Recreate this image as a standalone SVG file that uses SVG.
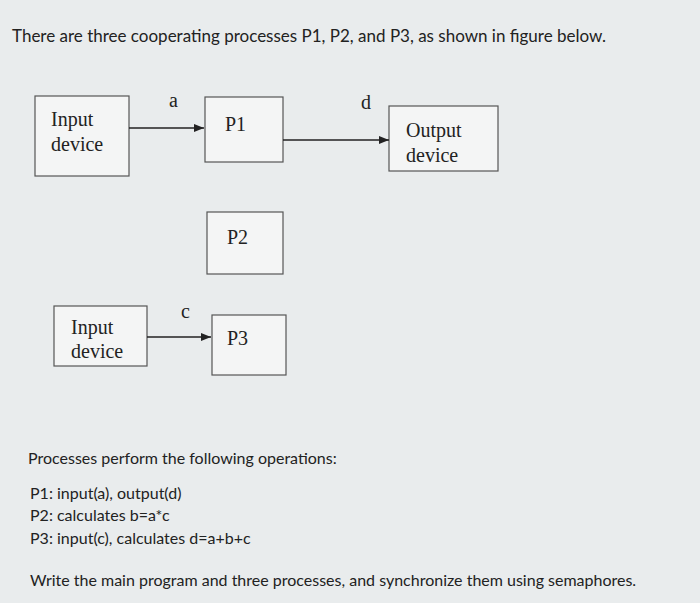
<svg xmlns="http://www.w3.org/2000/svg" width="700" height="603" viewBox="0 0 700 603">
<defs>
<marker id="ah" viewBox="0 0 10 10" refX="10" refY="5" markerWidth="8" markerHeight="8" orient="auto"><path d="M0,1 L10,5 L0,9 z" fill="#222"/></marker>
<style>
.box{fill:#f4f5f5;stroke:#555;stroke-width:1.2}
.lbl{font-family:"Liberation Serif",serif;font-size:20px;fill:#222}
.txt{font-family:Lato,"Liberation Sans",sans-serif;font-size:16px;fill:#222}
.conn{stroke:#222;stroke-width:1.3;fill:none;marker-end:url(#ah)}
</style>
</defs>
<rect width="700" height="603" fill="#e9eced"/>
<text class="txt" x="12" y="42" style="font-size:17px">There are three cooperating processes P1, P2, and P3, as shown in figure below.</text>
<g id="in1"><rect class="box" x="35" y="96" width="94" height="80"/><text class="lbl" x="51" y="126">Input</text><text class="lbl" x="51" y="151">device</text></g>
<g id="p1"><rect class="box" x="205" y="97" width="78" height="65"/><text class="lbl" x="225" y="131">P1</text></g>
<g id="out"><rect class="box" x="389" y="106" width="109" height="65"/><text class="lbl" x="406" y="137">Output</text><text class="lbl" x="406" y="162">device</text></g>
<g id="p2"><rect class="box" x="207" y="212" width="76" height="62"/><text class="lbl" x="227" y="244">P2</text></g>
<g id="in2"><rect class="box" x="54" y="306" width="93" height="60"/><text class="lbl" x="71" y="334">Input</text><text class="lbl" x="71" y="358">device</text></g>
<g id="p3"><rect class="box" x="212" y="315" width="74" height="60"/><text class="lbl" x="227" y="345">P3</text></g>
<g id="connectors">
<line class="conn" x1="129" y1="128" x2="204" y2="128"/>
<line class="conn" x1="283" y1="140" x2="389" y2="140"/>
<line class="conn" x1="147" y1="337" x2="211" y2="337"/>
<text class="lbl" x="169" y="107">a</text>
<text class="lbl" x="361" y="109">d</text>
<text class="lbl" x="181" y="318">c</text>
</g>
<text class="txt" x="28" y="464">Processes perform the following operations:</text>
<text class="txt" x="30" y="499">P1: input(a), output(d)</text>
<text class="txt" x="30" y="521">P2: calculates b=a*c</text>
<text class="txt" x="30" y="544">P3: input(c), calculates d=a+b+c</text>
<text class="txt" x="30" y="586">Write the main program and three processes, and synchronize them using semaphores.</text>
</svg>
